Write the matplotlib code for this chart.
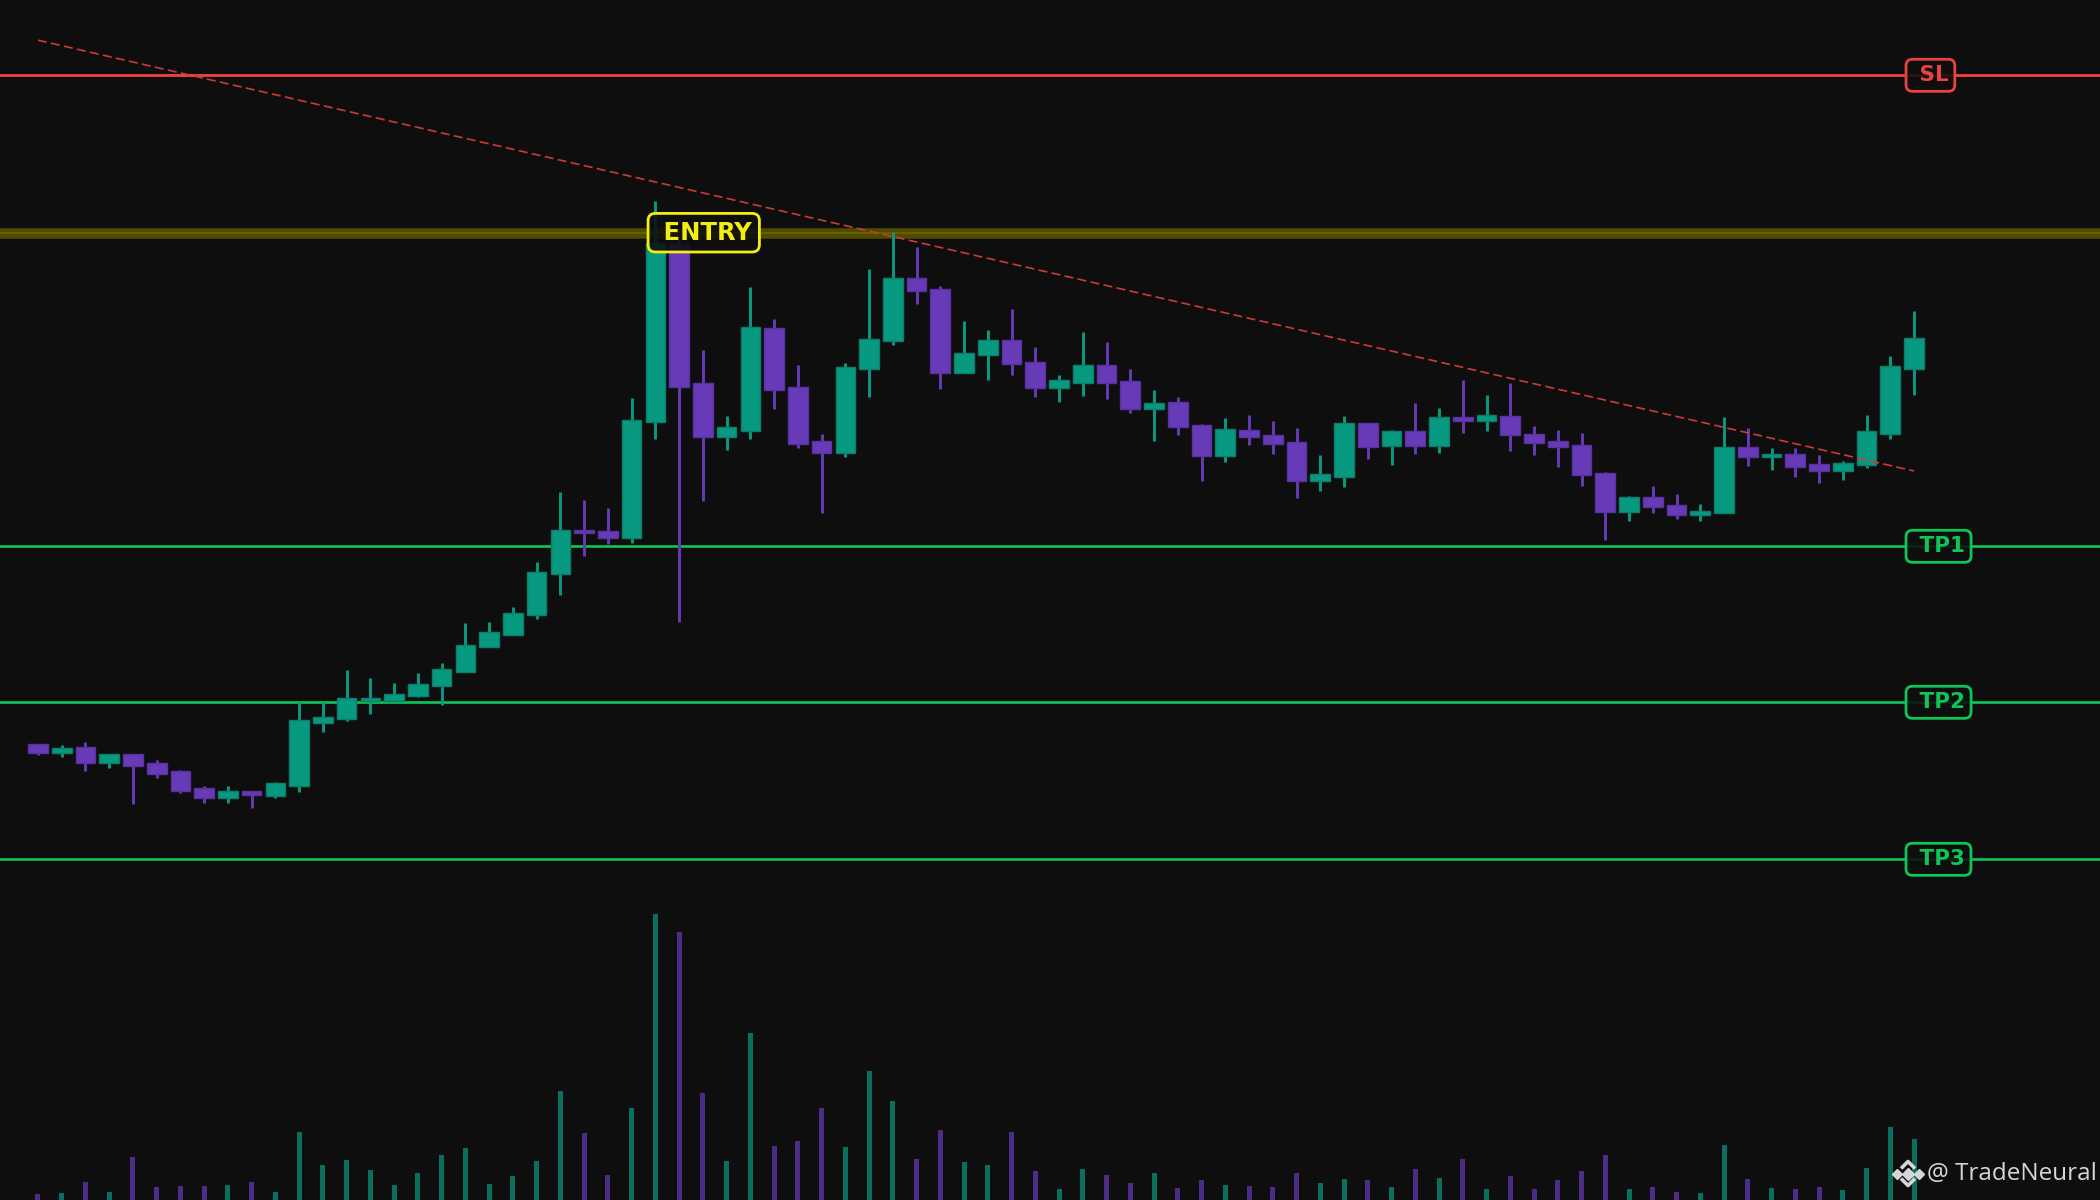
import numpy as np
import matplotlib
matplotlib.use("Agg")
import matplotlib.pyplot as plt
from matplotlib.lines import Line2D

# price data (arbitrary units)
opens = [45.57, 44.73, 45.27, 43.73, 44.57, 43.67, 42.87, 41.17, 40.23, 40.87,
         40.43, 41.43, 47.73, 48.13, 49.90, 49.90, 50.45, 51.44, 52.82, 55.27,
         56.54, 58.47, 62.57, 66.98, 66.87, 66.25, 77.82, 95.60, 81.67, 76.33,
         76.93, 87.17, 81.27, 75.87, 74.73, 83.07, 85.93, 92.17, 91.07, 82.67,
         84.47, 85.97, 83.77, 81.17, 81.73, 83.47, 81.87, 79.13, 79.77, 77.47,
         74.37, 76.97, 76.47, 75.77, 71.87, 72.27, 77.67, 75.37, 76.87, 75.37,
         78.27, 77.93, 78.37, 76.57, 75.87, 75.47, 72.67, 68.77, 70.27, 69.47,
         68.47, 68.67, 75.27, 74.27, 74.60, 73.60, 72.93, 73.47, 76.63, 83.13]
highs = [45.57, 45.50, 45.80, 44.57, 44.57, 44.00, 43.00, 41.40, 41.40, 40.87,
         41.80, 49.77, 49.80, 53.00, 52.20, 51.70, 52.70, 53.70, 57.70, 57.82,
         59.30, 63.80, 70.80, 70.00, 69.20, 80.20, 99.90, 96.40, 85.00, 78.40,
         91.30, 88.10, 83.50, 76.60, 83.70, 93.10, 96.77, 95.30, 91.40, 87.90,
         87.00, 89.10, 85.30, 82.50, 86.80, 85.80, 83.10, 81.00, 80.27, 77.60,
         78.20, 78.50, 77.90, 77.20, 74.50, 78.40, 77.67, 76.97, 79.70, 79.20,
         82.00, 80.50, 81.70, 77.40, 77.00, 76.70, 72.80, 70.40, 71.40, 70.60,
         69.60, 78.30, 77.20, 75.20, 75.20, 74.50, 73.90, 78.50, 84.40, 88.90]
lows = [44.50, 44.30, 42.90, 43.20, 39.60, 42.20, 40.70, 39.70, 39.70, 39.20,
        40.20, 40.80, 46.80, 47.90, 48.60, 49.80, 50.30, 49.50, 52.80, 55.27,
        56.50, 58.13, 60.54, 64.43, 65.57, 65.74, 76.10, 57.85, 69.90, 75.00,
        76.10, 79.10, 75.23, 68.73, 74.33, 80.33, 85.50, 89.63, 81.13, 82.67,
        82.03, 82.53, 80.33, 79.83, 80.43, 80.10, 78.73, 75.93, 76.53, 71.93,
        73.83, 75.53, 74.63, 70.23, 70.93, 71.33, 74.13, 73.53, 74.63, 74.73,
        76.73, 76.90, 74.93, 74.53, 73.33, 71.43, 66.03, 67.93, 68.73, 68.13,
        67.93, 68.67, 73.43, 73.00, 72.30, 71.73, 72.00, 73.20, 76.10, 80.50]
closes = [44.73, 45.20, 43.73, 44.57, 43.43, 42.63, 40.93, 40.23, 40.87, 40.53,
          41.67, 47.97, 48.27, 50.17, 50.17, 50.65, 51.65, 53.06, 55.48, 56.78,
          58.68, 62.78, 66.98, 66.67, 66.25, 77.96, 95.70, 81.34, 76.33, 77.27,
          87.27, 81.03, 75.63, 74.67, 83.27, 86.07, 92.17, 90.87, 82.67, 84.67,
          85.97, 83.57, 81.17, 81.97, 83.47, 81.67, 79.13, 79.67, 77.27, 74.37,
          77.07, 76.27, 75.57, 71.87, 72.57, 77.67, 75.27, 76.87, 75.37, 78.27,
          77.93, 78.47, 76.47, 75.67, 75.27, 72.47, 68.77, 70.27, 69.27, 68.47,
          68.87, 75.27, 74.27, 74.60, 73.33, 72.93, 73.67, 76.87, 83.37, 86.17]
volumes = [6, 7, 18, 8, 43, 13, 14, 14, 15, 18,
           8, 68, 35, 40, 30, 15, 27, 45, 52, 16,
           24, 39, 109, 67, 25, 92, 286, 268, 107, 39,
           167, 54, 59, 92, 53, 129, 99, 41, 70, 38,
           35, 68, 29, 11, 31, 25, 17, 27, 12, 20,
           15, 14, 13, 27, 17, 21, 20, 13, 31, 22,
           41, 11, 24, 11, 20, 29, 45, 11, 13, 8,
           7, 55, 21, 12, 11, 13, 10, 32, 73, 61]

# trade levels
level_names = ["SL", "TP1", "TP2", "TP3"]
level_prices = [112.47, 65.37, 49.77, 34.07]
entry_price = 96.73
entry_candle = 26
trend_start = (0, 115.98)
trend_end = (79, 72.90)

BG = "#0e0e0e"
UP = "#089981"
DOWN = "#673ab7"
SL_RED = "#e84242"
TP_GREEN = "#10c557"
YELLOW = "#f2ee12"

o = np.array(opens)
h = np.array(highs)
l = np.array(lows)
c = np.array(closes)
v = np.array(volumes)
x = np.arange(len(o))
up = c >= o
cols = np.where(up, UP, DOWN)

fig = plt.figure(figsize=(21, 12), dpi=100, facecolor=BG)

# volume panel underneath
axv = fig.add_axes([0, 0, 1, 1])
axv.set_facecolor(BG)
axv.bar(x, v, width=0.21, color=cols, alpha=0.7, linewidth=0)
axv.set_ylim(0, 1200)

ax = fig.add_axes([0, 0, 1, 1], sharex=axv)
ax.patch.set_alpha(0)
ax.set_xlim(-1.596, 86.83)
ax.set_ylim(0, 120)
for a in (ax, axv):
    a.axis("off")

# levels
ax.axhline(entry_price, color="#4f4b00", lw=7.6, zorder=1)
ax.axhline(entry_price, color="#6a6500", lw=1.2, zorder=1)
for name, p in zip(level_names, level_prices):
    col = SL_RED if name == "SL" else TP_GREEN
    ax.axhline(p, color=col, lw=2.1 if name == "SL" else 1.9, zorder=1)

# candles
ax.vlines(x, l, h, colors=cols, lw=2.1, zorder=2)
body_lo = np.minimum(o, c)
body_h = np.maximum(np.abs(c - o), 0.3)
edge = np.where(up, "#0b7f6b", "#5a31a3")
ax.bar(x, body_h, bottom=body_lo, width=0.83, color=cols,
       edgecolor=edge, linewidth=1.0, zorder=3)

# falling trend line
ax.plot([trend_start[0], trend_end[0]], [trend_start[1], trend_end[1]],
        color="#cc3a3a", lw=1.2, ls=(0, (5.4, 2.6)), zorder=4)

# labels
box_fc = (0.055, 0.055, 0.055, 0.88)
ax.text(entry_candle, entry_price, " ENTRY", color=YELLOW, fontsize=17.5,
        fontweight="bold", ha="left", va="center", zorder=6,
        bbox=dict(boxstyle="round,pad=0.3,rounding_size=0.3", fc=box_fc,
                  ec=YELLOW, lw=2))
trans = ax.get_yaxis_transform()
for name, p in zip(level_names, level_prices):
    col = SL_RED if name == "SL" else TP_GREEN
    ax.text(0.9105, p, " " + name, color=col, fontsize=15.5, fontweight="bold",
            ha="left", va="center", transform=trans, zorder=6,
            bbox=dict(boxstyle="round,pad=0.28,rounding_size=0.3", fc=box_fc,
                      ec=col, lw=2))

# watermark
wm = "#d6d6d6"
fig.text(0.9175, 1 - 1173.5 / 1200, "@ TradeNeural", color=wm, fontsize=17.5,
         family=["Open Sans", "DejaVu Sans"], ha="left", va="center")
icon_c = (1908 / 2100, 1 - 1173.5 / 1200)
for dx, dy, ms in [(0, 0, 6), (-11, 0, 5), (11, 0, 5)]:
    fig.add_artist(Line2D([icon_c[0] + dx / 2100], [icon_c[1] + dy / 1200],
                          marker="D", ms=ms, color=wm, mec=wm, lw=0,
                          transform=fig.transFigure))
for sgn in (1, -1):
    xs = np.array([-7, 0, 7]) / 2100 + icon_c[0]
    ys = icon_c[1] + sgn * np.array([5, 12, 5]) / 1200
    fig.add_artist(Line2D(xs, ys, color=wm, lw=2.6, solid_capstyle="butt",
                          transform=fig.transFigure))

fig.savefig("out.png", dpi=100, facecolor=BG)
